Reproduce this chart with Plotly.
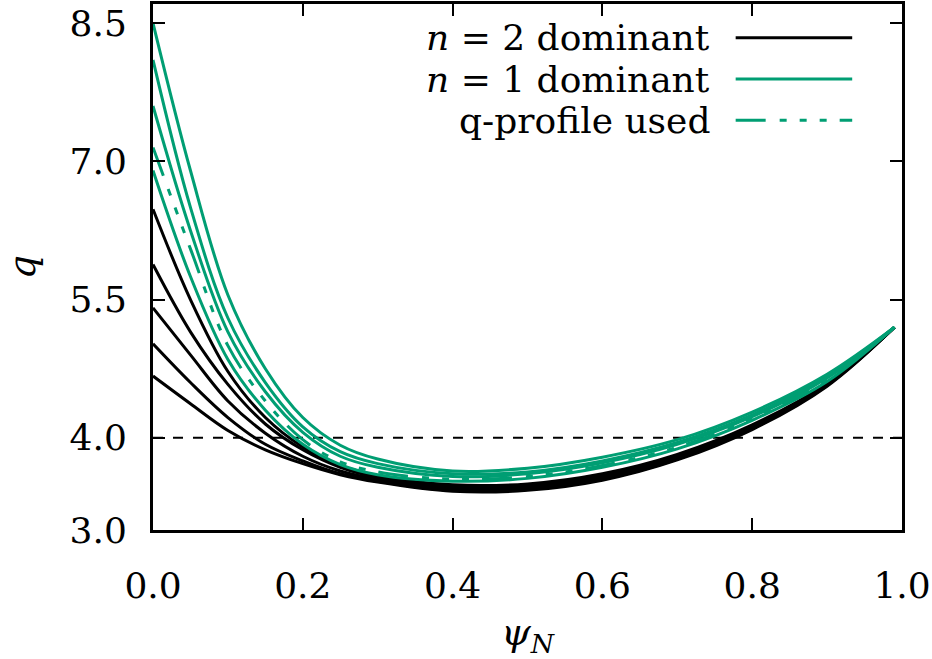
import plotly.graph_objects as go

psi = [0.0, 0.05, 0.1, 0.15, 0.2, 0.25, 0.3, 0.4, 0.5, 0.6, 0.7, 0.8, 0.9, 0.99]

# n = 2 dominant (black)
black_curves = [
    [4.67, 4.37, 4.08, 3.87, 3.72, 3.60, 3.52, 3.42, 3.43, 3.54, 3.76, 4.09, 4.56, 5.2],
    [5.02, 4.60, 4.22, 3.93, 3.75, 3.61, 3.53, 3.43, 3.44, 3.55, 3.77, 4.10, 4.57, 5.2],
    [5.41, 4.90, 4.40, 4.05, 3.80, 3.64, 3.55, 3.45, 3.46, 3.57, 3.78, 4.11, 4.57, 5.2],
    [5.88, 5.15, 4.58, 4.15, 3.87, 3.68, 3.57, 3.47, 3.48, 3.59, 3.80, 4.12, 4.58, 5.2],
    [6.48, 5.50, 4.72, 4.22, 3.90, 3.70, 3.59, 3.49, 3.50, 3.61, 3.82, 4.14, 4.59, 5.2],
]

# n = 1 dominant (green)
green_curves = [
    [6.90, 5.75, 4.85, 4.30, 3.93, 3.71, 3.60, 3.53, 3.56, 3.68, 3.88, 4.19, 4.61, 5.2],
    [7.60, 6.25, 5.15, 4.50, 4.06, 3.80, 3.68, 3.58, 3.61, 3.73, 3.93, 4.23, 4.65, 5.2],
    [8.10, 6.50, 5.30, 4.60, 4.12, 3.85, 3.72, 3.61, 3.63, 3.75, 3.95, 4.25, 4.67, 5.2],
    [8.50, 6.90, 5.55, 4.75, 4.22, 3.92, 3.77, 3.64, 3.67, 3.79, 3.98, 4.28, 4.69, 5.2],
]

# q-profile used (green dash-dot)
used_curve = [7.15, 6.05, 5.00, 4.40, 3.98, 3.74, 3.63, 3.55, 3.58, 3.70, 3.90, 4.21, 4.63, 5.2]

ref_x = [0.0, 1.0]
ref_q = [4.0, 4.0]

y_ticks = [3.0, 4.0, 5.5, 7.0, 8.5]
x_ticks = [0.0, 0.2, 0.4, 0.6, 0.8, 1.0]

legend_labels = ["<i>n</i> = 2 dominant", "<i>n</i> = 1 dominant", "q-profile used"]

GREEN = "#009E73"
BLACK = "#000000"
DASHDOT = "30px,14px,7px,13px,7px,13px,7px,13px"
FONT = "DejaVu Serif"
FS = 36

fig = go.Figure()

fig.add_trace(go.Scatter(x=ref_x, y=ref_q, mode="lines",
                         line=dict(color=BLACK, width=2, dash="10px,10px"),
                         showlegend=False, hoverinfo="skip"))

for c in black_curves:
    fig.add_trace(go.Scatter(x=psi, y=c, mode="lines",
                             line=dict(color=BLACK, width=3, shape="spline", smoothing=1.0),
                             showlegend=False))
for c in green_curves:
    fig.add_trace(go.Scatter(x=psi, y=c, mode="lines",
                             line=dict(color=GREEN, width=3, shape="spline", smoothing=1.0),
                             showlegend=False))
fig.add_trace(go.Scatter(x=psi, y=used_curve, mode="lines",
                         line=dict(color=GREEN, width=3, shape="spline", smoothing=1.0, dash=DASHDOT),
                         showlegend=False))

# Legend drawn manually (text right-aligned, sample on the right)
W, H = 932, 659
ml, mr, mt, mb = 153, 27, 1, 129
pw, ph = W - ml - mr, H - mt - mb

def px_to_paper(xp, yp):
    return (xp - ml) / pw, 1 - (yp - mt) / ph

leg_y = [35, 76.5, 118]
leg_styles = [dict(color=BLACK, width=3), dict(color=GREEN, width=3),
              dict(color=GREEN, width=3, dash=DASHDOT)]
for lab, yy, st in zip(legend_labels, leg_y, leg_styles):
    tx, ty = px_to_paper(713, yy)
    fig.add_annotation(x=tx, y=ty, xref="paper", yref="paper", text=lab,
                       showarrow=False, xanchor="right", yanchor="middle", borderpad=0,
                       font=dict(family=FONT, size=FS, color=BLACK))
    x0, y0 = px_to_paper(738, yy)
    x1, _ = px_to_paper(855, yy)
    fig.add_shape(type="line", xref="paper", yref="paper", x0=x0, x1=x1, y0=y0, y1=y0,
                  line=st)

axis_common = dict(showline=True, linecolor=BLACK, linewidth=3, mirror="allticks",
                   ticks="inside", ticklen=12, tickwidth=2, tickcolor=BLACK,
                   showgrid=False, zeroline=False, ticklabeloverflow="allow",
                   tickfont=dict(family=FONT, size=FS, color=BLACK))

fig.update_xaxes(range=[0, 1], tickvals=x_ticks, ticktext=[f"{v:.1f}" for v in x_ticks],
                 ticklabelstandoff=22,
                 title=dict(text="<i>ψ</i><sub><i>N</i></sub>", standoff=16,
                            font=dict(family=FONT, size=FS + 2, color=BLACK)),
                 **axis_common)
fig.update_yaxes(range=[3.0, 3.0 + 529 / 92.7], tickvals=y_ticks,
                 ticktext=[f"{v:.1f}" for v in y_ticks],
                 ticklabelstandoff=16,
                 title=dict(text="<i>q</i>", standoff=24,
                            font=dict(family=FONT, size=FS + 2, color=BLACK)),
                 **axis_common)

fig.update_layout(width=W, height=H, margin=dict(l=ml, r=mr, t=mt, b=mb),
                  plot_bgcolor="white", paper_bgcolor="white", showlegend=False)

fig.write_html("out.html")
